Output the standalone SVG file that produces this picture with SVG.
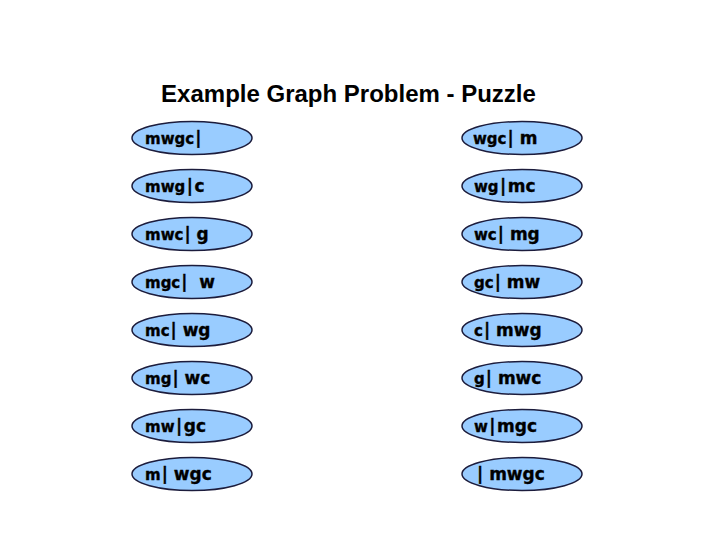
<svg xmlns="http://www.w3.org/2000/svg" width="720" height="540" viewBox="0 0 720 540">
<style>
.node ellipse { fill: #99ccff; stroke: #1c1c3c; stroke-width: 1.5; }
.lbl { font-family: "DejaVu Sans", Verdana, sans-serif; font-weight: bold; fill: #000; stroke: #000; stroke-width: 0.35; white-space: pre; }
.s { font-size: 15px; }
.b { font-size: 17px; }
.title { font-family: "Liberation Sans", Arial, sans-serif; font-weight: bold; font-size: 24px; fill: #000; }
</style>
<defs>
<ellipse id="oval" cx="0" cy="0" rx="60" ry="16.5"/>
</defs>
<rect width="720" height="540" fill="#ffffff"/>
<text class="title" x="348.5" y="102" text-anchor="middle">Example Graph Problem - Puzzle</text>
<g id="connectors"></g>

<g id="n-mwgc" class="node"><ellipse cx="192" cy="138" rx="60" ry="16.5"/><text class="lbl" x="145" y="144" xml:space="preserve"><tspan class="s">mwgc</tspan><tspan class="b" dx="1">|</tspan></text></g>
<g id="n-mwg-c" class="node"><ellipse cx="192" cy="186" rx="60" ry="16.5"/><text class="lbl" x="145" y="192" xml:space="preserve"><tspan class="s">mwg</tspan><tspan class="b" dx="1.5">|</tspan><tspan class="b" dx="1.5">c</tspan></text></g>
<g id="n-mwc-g" class="node"><ellipse cx="192" cy="234" rx="60" ry="16.5"/><text class="lbl" x="145" y="240" xml:space="preserve"><tspan class="s">mwc</tspan><tspan class="b" dx="1">| g</tspan></text></g>
<g id="n-mgc-w" class="node"><ellipse cx="192" cy="282" rx="60" ry="16.5"/><text class="lbl" x="145" y="288" xml:space="preserve"><tspan class="s">mgc</tspan><tspan class="b" dx="1">|  w</tspan></text></g>
<g id="n-mc-wg" class="node"><ellipse cx="192" cy="330" rx="60" ry="16.5"/><text class="lbl" x="145" y="336" xml:space="preserve"><tspan class="s">mc</tspan><tspan class="b" dx="1">| wg</tspan></text></g>
<g id="n-mg-wc" class="node"><ellipse cx="192" cy="378" rx="60" ry="16.5"/><text class="lbl" x="145" y="384" xml:space="preserve"><tspan class="s">mg</tspan><tspan class="b" dx="1">| wc</tspan></text></g>
<g id="n-mw-gc" class="node"><ellipse cx="192" cy="426" rx="60" ry="16.5"/><text class="lbl" x="145" y="432" xml:space="preserve"><tspan class="s">mw</tspan><tspan class="b" dx="1.5">|</tspan><tspan class="b" dx="1.5">gc</tspan></text></g>
<g id="n-m-wgc" class="node"><ellipse cx="192" cy="474" rx="60" ry="16.5"/><text class="lbl" x="145" y="480" xml:space="preserve"><tspan class="s">m</tspan><tspan class="b" dx="1">| wgc</tspan></text></g>

<g id="n-wgc-m" class="node"><ellipse cx="522" cy="138" rx="60" ry="16.5"/><text class="lbl" x="473" y="144" xml:space="preserve"><tspan class="s">wgc</tspan><tspan class="b" dx="1">| m</tspan></text></g>
<g id="n-wg-mc" class="node"><ellipse cx="522" cy="186" rx="60" ry="16.5"/><text class="lbl" x="474" y="192" xml:space="preserve"><tspan class="s">wg</tspan><tspan class="b" dx="1.5">|</tspan><tspan class="b" dx="1.5">mc</tspan></text></g>
<g id="n-wc-mg" class="node"><ellipse cx="522" cy="234" rx="60" ry="16.5"/><text class="lbl" x="474" y="240" xml:space="preserve"><tspan class="s">wc</tspan><tspan class="b" dx="1">| mg</tspan></text></g>
<g id="n-gc-mw" class="node"><ellipse cx="522" cy="282" rx="60" ry="16.5"/><text class="lbl" x="474" y="288" xml:space="preserve"><tspan class="s">gc</tspan><tspan class="b" dx="1">| mw</tspan></text></g>
<g id="n-c-mwg" class="node"><ellipse cx="522" cy="330" rx="60" ry="16.5"/><text class="lbl" x="474" y="336" xml:space="preserve"><tspan class="s">c</tspan><tspan class="b" dx="1">| mwg</tspan></text></g>
<g id="n-g-mwc" class="node"><ellipse cx="522" cy="378" rx="60" ry="16.5"/><text class="lbl" x="474" y="384" xml:space="preserve"><tspan class="s">g</tspan><tspan class="b" dx="1">| mwc</tspan></text></g>
<g id="n-w-mgc" class="node"><ellipse cx="522" cy="426" rx="60" ry="16.5"/><text class="lbl" x="474" y="432" xml:space="preserve"><tspan class="s">w</tspan><tspan class="b" dx="1.5">|</tspan><tspan class="b" dx="1.5">mgc</tspan></text></g>
<g id="n-mwgc-r" class="node"><ellipse cx="522" cy="474" rx="60" ry="16.5"/><text class="lbl" x="477" y="480" xml:space="preserve"><tspan class="b">| mwgc</tspan></text></g>
</svg>
